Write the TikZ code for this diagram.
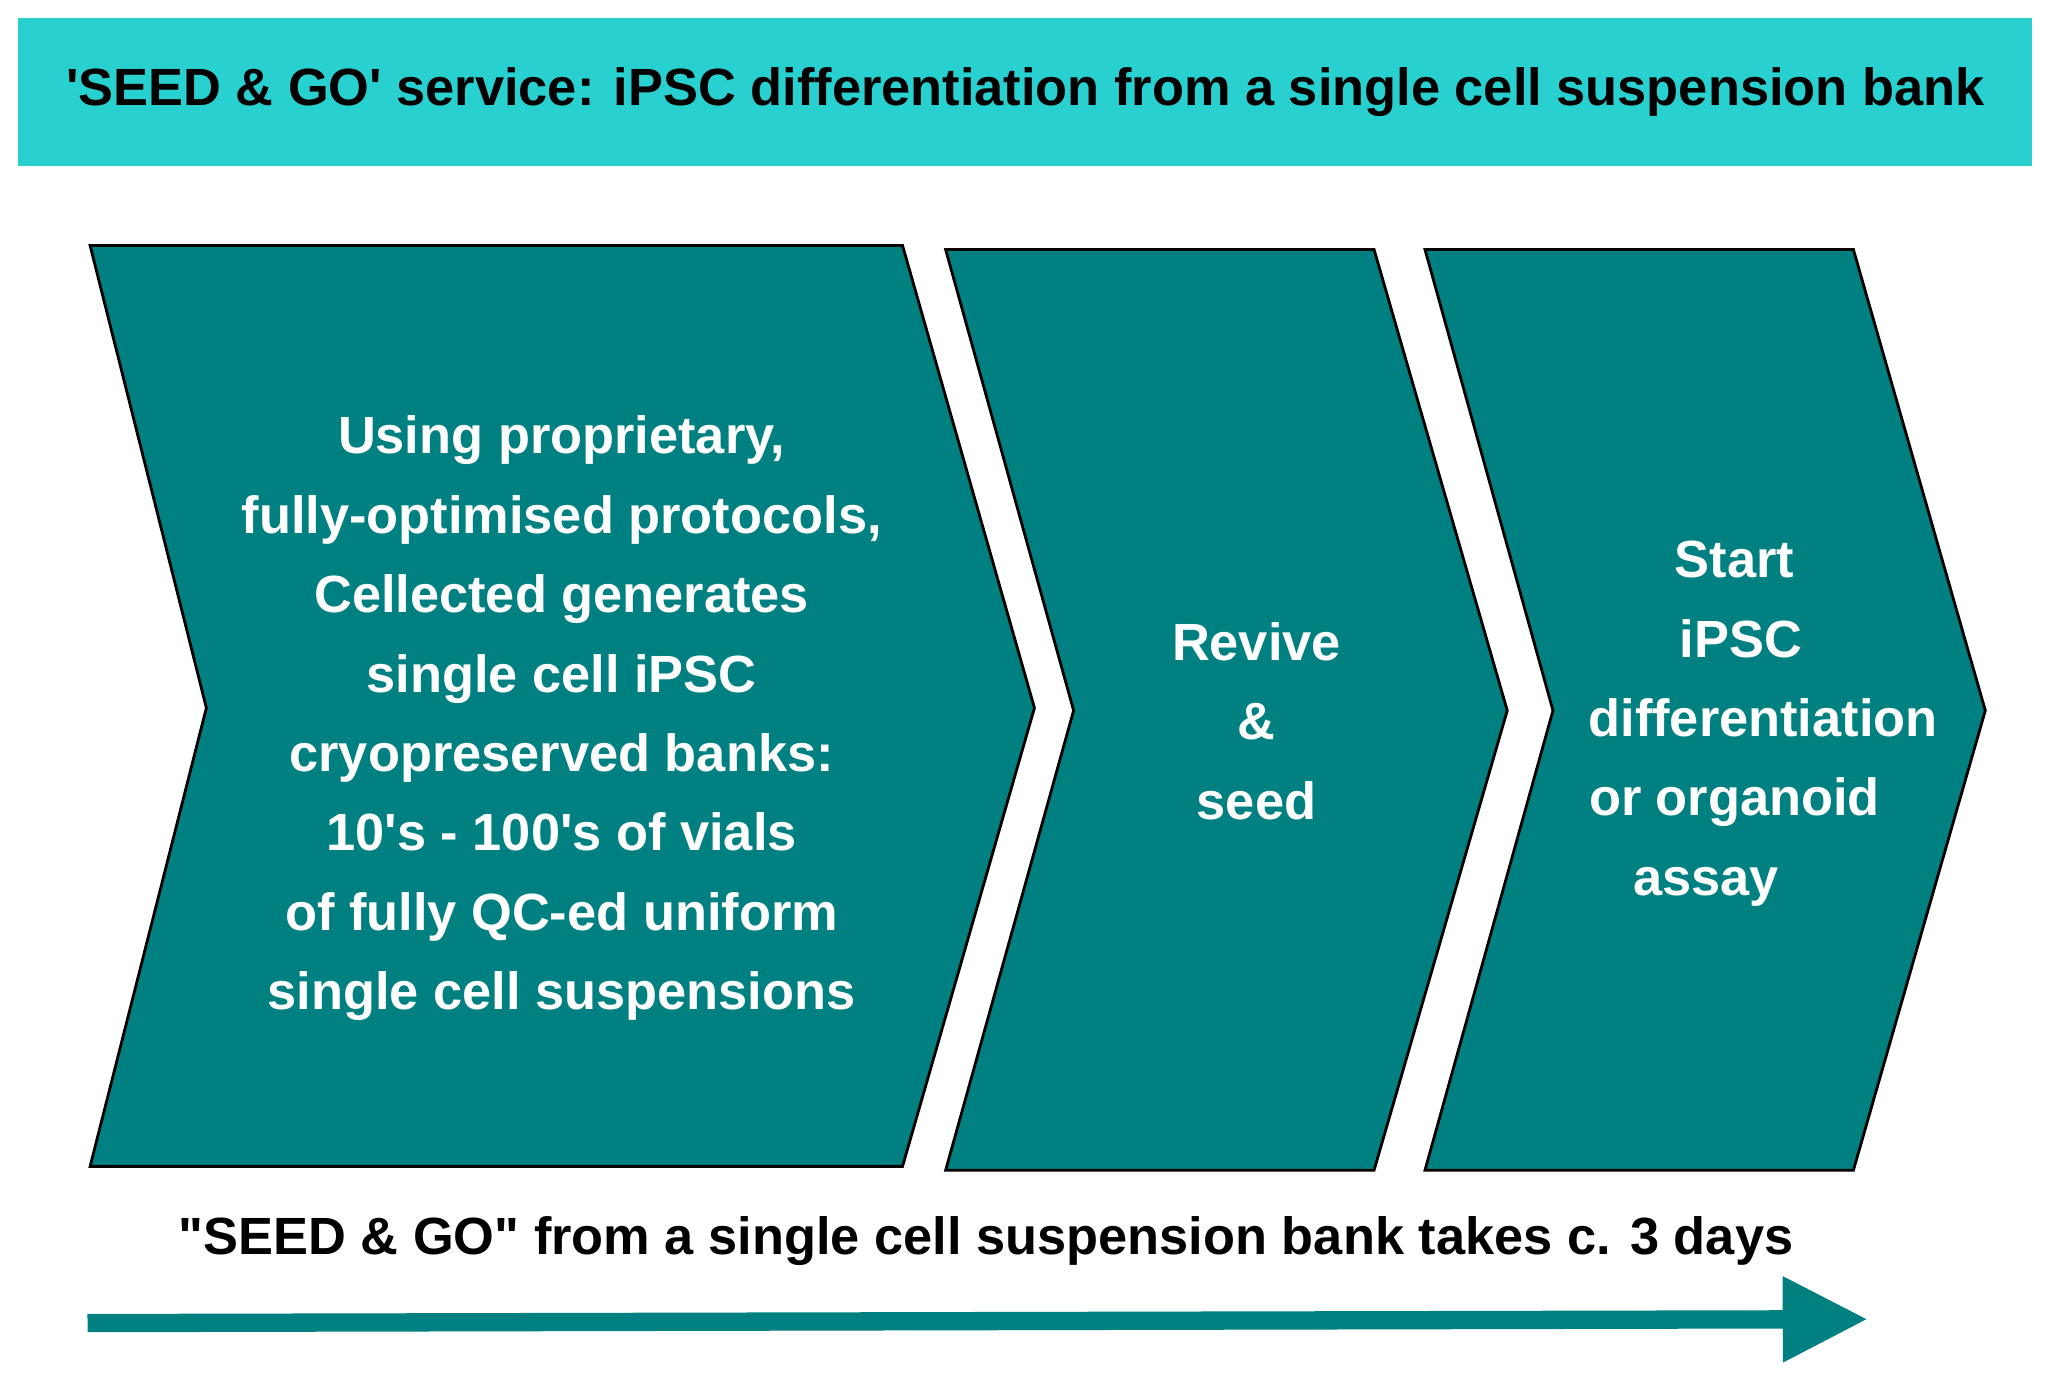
\documentclass[tikz,border=0pt]{standalone}
\usepackage{fontspec}
\setmainfont{Liberation Sans}[Ligatures=TeXOff]
\usetikzlibrary{positioning,calc,arrows.meta}
\definecolor{bannercolor}{RGB}{41,208,208}
\definecolor{stepcolor}{RGB}{0,128,128}
\newcommand{\sq}{\symbol{39}}
\newcommand{\dq}{\symbol{34}}
\tikzset{
  %% banner : title bar
  banner/.style={
    rectangle,
    fill=bannercolor,
    minimum width=20.14cm,
    minimum height=1.476cm,
    align=center,
    font=\bfseries\fontsize{14.9}{18}\selectfont
  },
  %% chevron : a step shape, use as a path
  chevron/.style={fill=stepcolor, draw=black, line width=0.8pt},
  %% steptext : white text in a step
  steptext/.style={
    text=white,
    align=center,
    font=\bfseries\fontsize{14.9}{22.6}\selectfont
  },
  %% timeline : arrow below the steps
  timeline/.style={
    stepcolor,
    line width=0.183cm,
    -{Triangle[length=0.85cm, width=0.81cm]}
  }
}
\begin{document}
\begin{tikzpicture}
  [x=0.013061cm,
  y=-0.013061cm]

  \useasboundingbox (0,0) rectangle (1568,1052);

  %% Title
  \node (title) [banner] at (785,70.5){%
    \sq SEED \& GO\sq{} service: iPSC differentiation from a single cell suspension bank};

  %% Steps
  \draw [chevron] (69,188) -- (691,188) -- (792,542) -- (691,893)
    -- (69,893) -- (158,542) -- cycle;
  \draw [chevron] (724,191) -- (1052,191) -- (1154,544) -- (1052,896)
    -- (724,896) -- (822,544) -- cycle;
  \draw [chevron] (1091,191) -- (1419,191) -- (1520,544) -- (1419,896)
    -- (1091,896) -- (1189,544) -- cycle;

  \node (step1) [steptext] at (430,550){%
    Using proprietary,\\
    fully-optimised protocols,\\
    Cellected generates\\
    single cell iPSC\\
    cryopreserved banks:\\
    10\sq s - 100\sq s of vials\\
    of fully QC-ed uniform\\
    single cell suspensions};

  \node (step2) [steptext] at (962,552){%
    Revive\\
    \&\\
    seed};

  \node (step3) [steptext] at (1328,554){%
    Start\\
    \hspace*{0.13cm}iPSC\\
    \hspace*{0.57cm}differentiation\\
    or organoid\hspace*{0.16cm}\\
    assay\hspace*{0.57cm}};

  %% Timeline
  \node (duration) [font=\bfseries\fontsize{14.9}{18}\selectfont] at (755,950){%
    \dq SEED \& GO\dq{} from a single cell suspension bank takes c. 3 days};
  \coordinate (line start) at (67,1013);
  \coordinate (line end) at (1430,1010);
  \draw [timeline] (line start) -- (line end);

\end{tikzpicture}
\end{document}
